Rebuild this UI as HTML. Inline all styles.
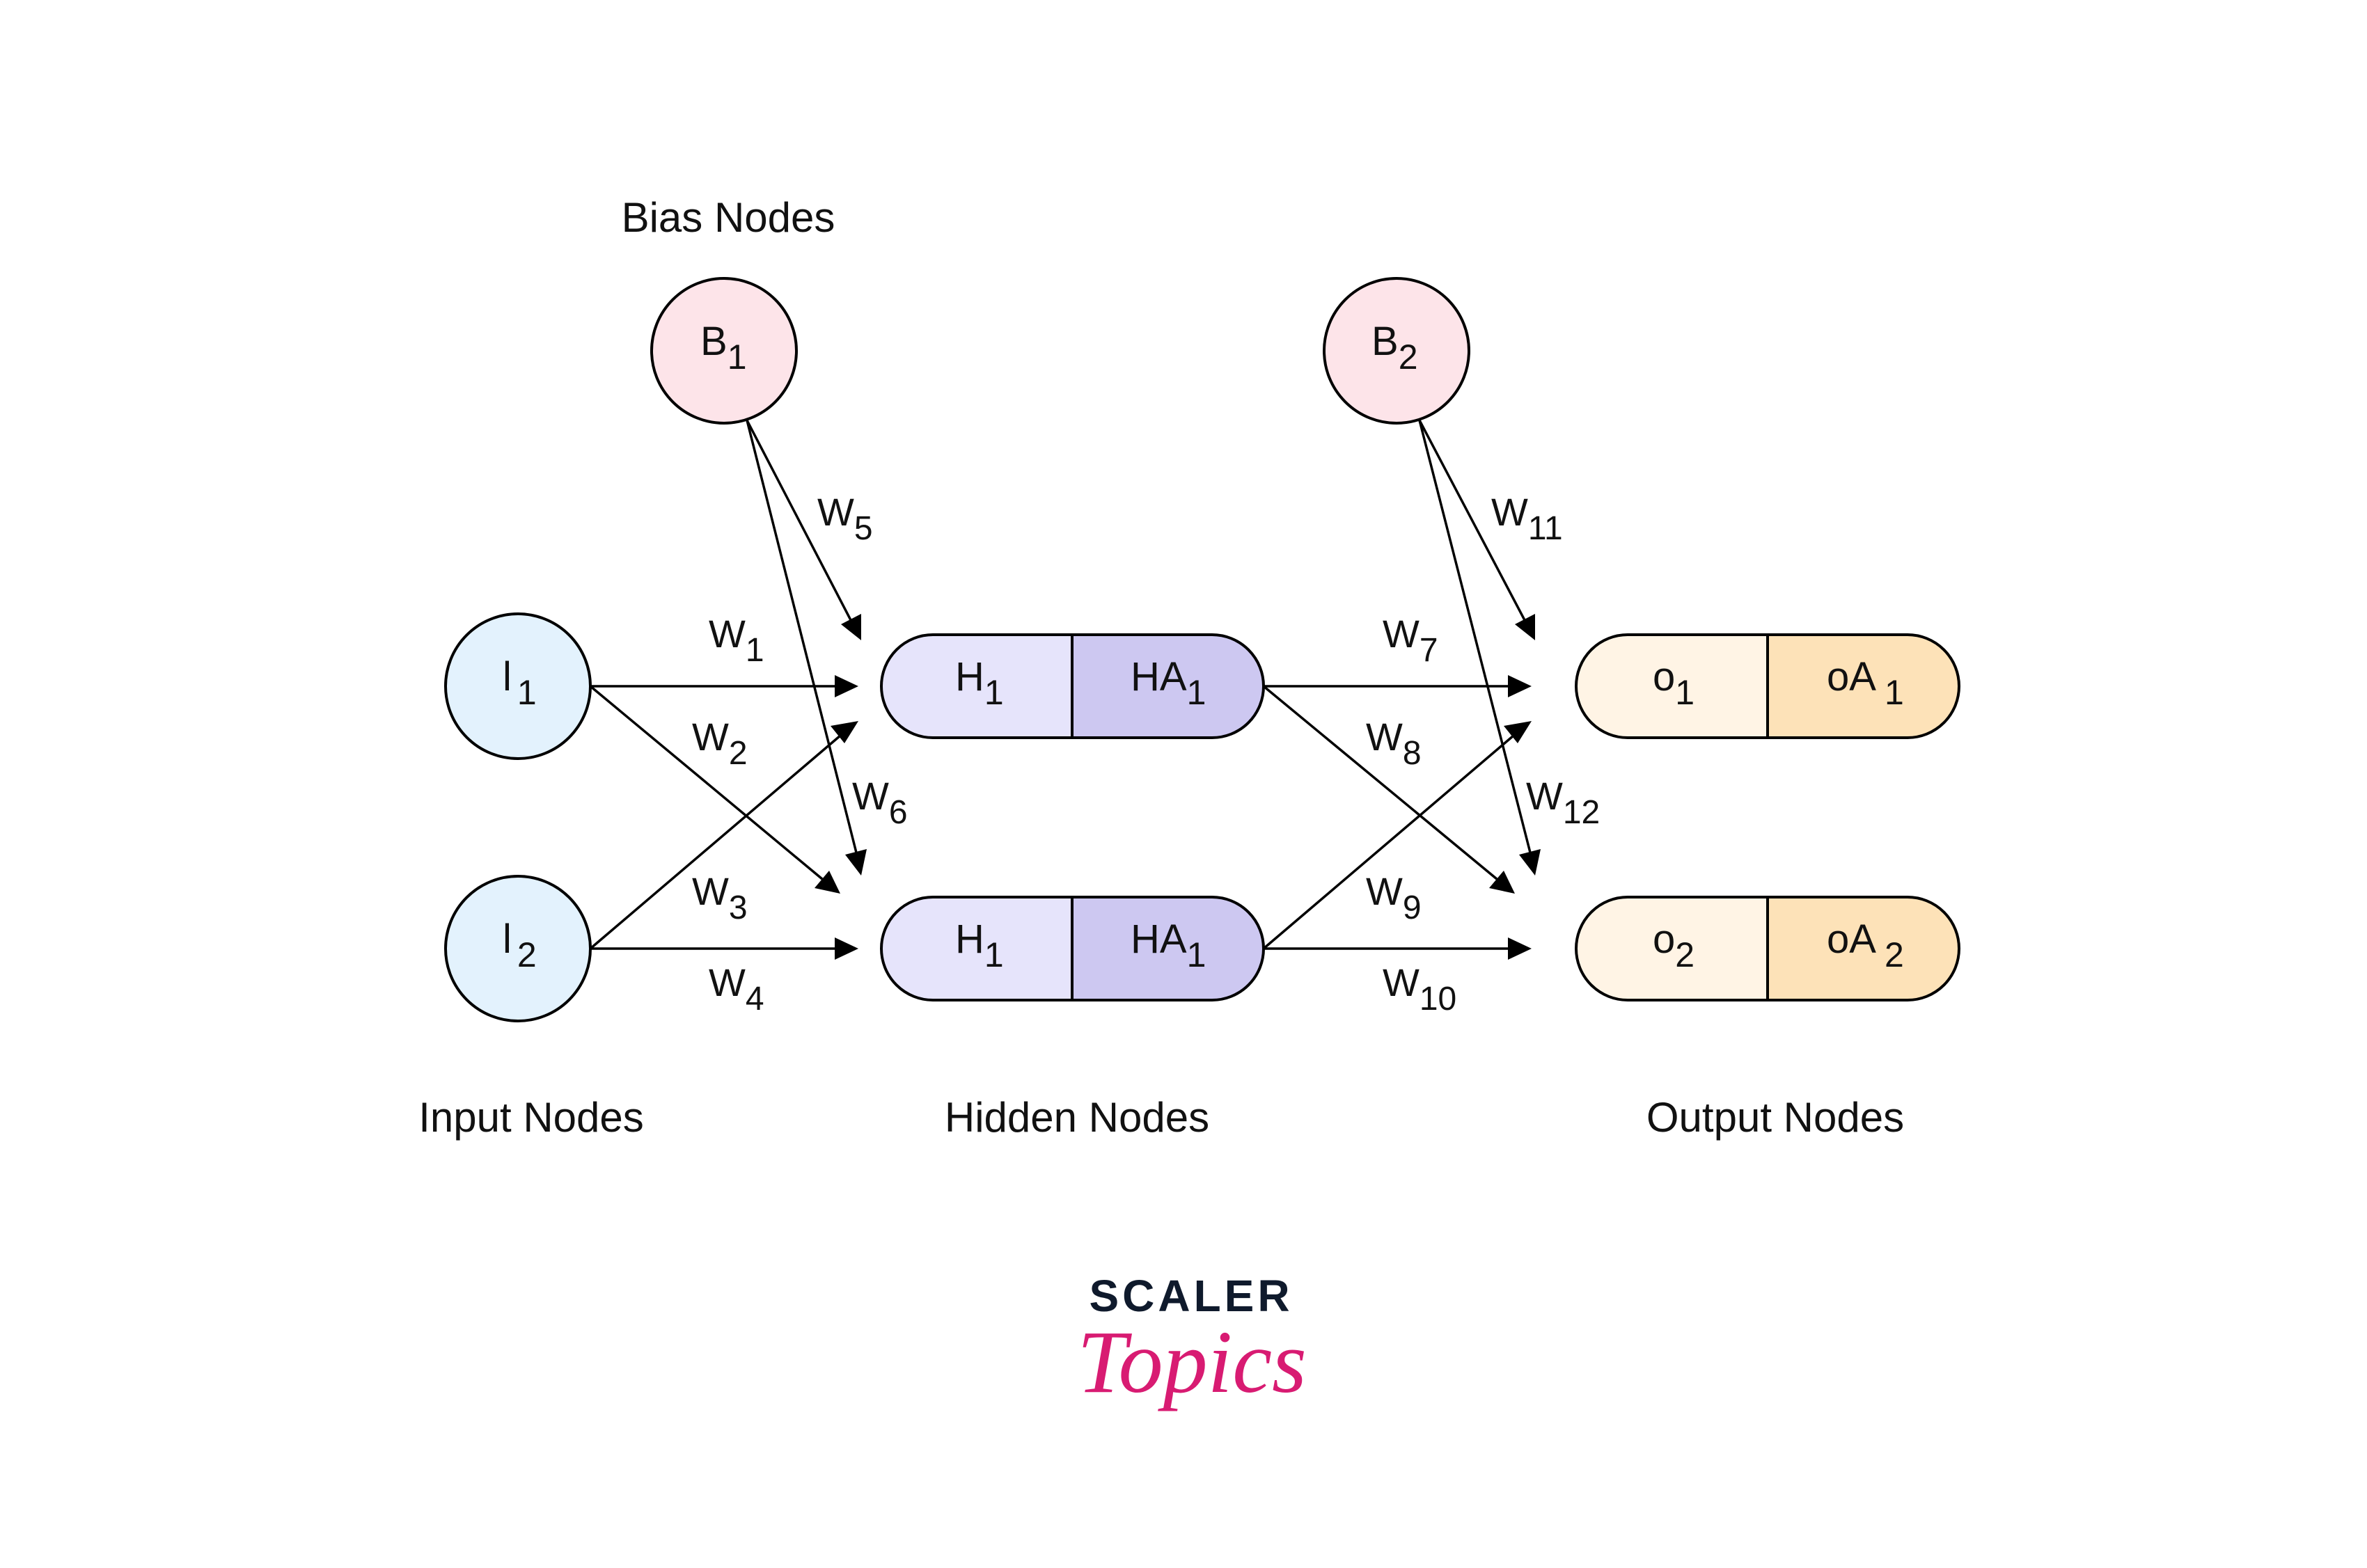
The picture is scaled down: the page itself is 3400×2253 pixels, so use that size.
<!DOCTYPE html>
<html><head><meta charset="utf-8"><style>html,body{margin:0;padding:0;background:#fff}svg{display:block}</style></head>
<body>
<svg width="3400" height="2253" viewBox="0 0 3400 2253" xmlns="http://www.w3.org/2000/svg" font-family="Liberation Sans, sans-serif">
<rect width="3400" height="2253" fill="#fff"/>
<g stroke="#000" stroke-width="4">
<circle cx="1040" cy="504" r="104" fill="#fde4e9"/>
<circle cx="2006" cy="504" r="104" fill="#fde4e9"/>
<circle cx="744" cy="986" r="104" fill="#e3f2fd"/>
<circle cx="744" cy="1363" r="104" fill="#e3f2fd"/>
<g transform="translate(-7,0)">
<path d="M1547 912 H1347 A74 74 0 0 0 1347 1060 H1547 Z" fill="#e6e4fb"/>
<path d="M1547 912 H1748 A74 74 0 0 1 1748 1060 H1547 Z" fill="#cdc8f1"/>
<path d="M1547 1289 H1347 A74 74 0 0 0 1347 1437 H1547 Z" fill="#e6e4fb"/>
<path d="M1547 1289 H1748 A74 74 0 0 1 1748 1437 H1547 Z" fill="#cdc8f1"/>
</g>
<g transform="translate(-11,0)">
<path d="M2550 912 H2349 A74 74 0 0 0 2349 1060 H2550 Z" fill="#fff4e5"/>
<path d="M2550 912 H2751 A74 74 0 0 1 2751 1060 H2550 Z" fill="#fde2b8"/>
<path d="M2550 1289 H2349 A74 74 0 0 0 2349 1437 H2550 Z" fill="#fff4e5"/>
<path d="M2550 1289 H2751 A74 74 0 0 1 2751 1437 H2550 Z" fill="#fde2b8"/>
</g>
</g>
<g stroke="#000" stroke-width="3.5" fill="none">
<line x1="848" y1="986" x2="1200" y2="986"/>
<line x1="848" y1="1363" x2="1200" y2="1363"/>
<line x1="848" y1="986" x2="1181" y2="1263"/>
<line x1="848" y1="1363" x2="1207" y2="1057"/>
<line x1="1073" y1="604" x2="1222" y2="891"/>
<line x1="1073" y1="604" x2="1230" y2="1225"/>
<line x1="1815" y1="986" x2="2167" y2="986"/>
<line x1="1815" y1="1363" x2="2167" y2="1363"/>
<line x1="1815" y1="986" x2="2150" y2="1263"/>
<line x1="1815" y1="1363" x2="2174" y2="1057"/>
<line x1="2039" y1="604" x2="2190" y2="891"/>
<line x1="2039" y1="604" x2="2198" y2="1225"/>
</g>
<g fill="#000">
<g transform="translate(-5,0)">
<polygon points="1238,986 1204,970 1204,1002"/>
<polygon points="1238,1363 1204,1347 1204,1379"/>
<polygon points="1212,1284 1175,1276 1196,1251"/>
<polygon points="1238,1036 1218,1068 1198,1043"/>
<polygon points="1242,920 1213,897 1242,882"/>
<polygon points="1242,1258 1219,1228 1250,1220"/>
</g>
<g transform="translate(-10,0)">
<polygon points="2210,986 2176,970 2176,1002"/>
<polygon points="2210,1363 2176,1347 2176,1379"/>
<polygon points="2186,1284 2149,1276 2170,1251"/>
<polygon points="2210,1036 2190,1068 2170,1043"/>
<polygon points="2215,920 2186,897 2215,882"/>
<polygon points="2215,1258 2192,1228 2223,1220"/>
</g>
</g>
<g font-size="60" fill="#111" text-anchor="middle">
<text x="1046" y="333">Bias Nodes</text>
<text x="763" y="1626">Input Nodes</text>
<text x="1547" y="1626">Hidden Nodes</text>
<text x="2550" y="1626">Output Nodes</text>
</g>
<g font-size="58" fill="#111">
<text x="1006" y="510">B<tspan font-size="50" dy="20">1</tspan></text>
<text x="1970" y="510">B<tspan font-size="50" dy="20">2</tspan></text>
<text x="722" y="992">l<tspan font-size="50" dy="20" dx="8">1</tspan></text>
<text x="722" y="1369">l<tspan font-size="50" dy="20" dx="8">2</tspan></text>
<text x="1372" y="992">H<tspan font-size="50" dy="20">1</tspan></text>
<text x="1624" y="992">HA<tspan font-size="50" dy="20">1</tspan></text>
<text x="1372" y="1369">H<tspan font-size="50" dy="20">1</tspan></text>
<text x="1624" y="1369">HA<tspan font-size="50" dy="20">1</tspan></text>
<text x="2374" y="992">o<tspan font-size="50" dy="20">1</tspan></text>
<text x="2624" y="992">oA<tspan font-size="50" dy="20" dx="12">1</tspan></text>
<text x="2374" y="1369">o<tspan font-size="50" dy="20">2</tspan></text>
<text x="2624" y="1369">oA<tspan font-size="50" dy="20" dx="12">2</tspan></text>
</g>
<g font-size="56" fill="#111">
<text x="1018" y="930">W<tspan font-size="48" dy="20">1</tspan></text>
<text x="994" y="1078">W<tspan font-size="48" dy="20">2</tspan></text>
<text x="994" y="1300">W<tspan font-size="48" dy="20">3</tspan></text>
<text x="1018" y="1431">W<tspan font-size="48" dy="20">4</tspan></text>
<text x="1174" y="755">W<tspan font-size="48" dy="20">5</tspan></text>
<text x="1224" y="1163">W<tspan font-size="48" dy="20">6</tspan></text>
<text x="1986" y="930">W<tspan font-size="48" dy="20">7</tspan></text>
<text x="1962" y="1078">W<tspan font-size="48" dy="20">8</tspan></text>
<text x="1962" y="1300">W<tspan font-size="48" dy="20">9</tspan></text>
<text x="1986" y="1431">W<tspan font-size="48" dy="20">10</tspan></text>
<text x="2142" y="755">W<tspan font-size="48" dy="20">11</tspan></text>
<text x="2192" y="1163">W<tspan font-size="48" dy="20">12</tspan></text>
</g>
<text x="1711" y="1884" font-size="64" font-weight="bold" fill="#0f1a2c" text-anchor="middle" letter-spacing="5">SCALER</text>
<text x="1712" y="2000" font-size="128" font-style="italic" font-family="Liberation Serif, serif" fill="#d81b72" text-anchor="middle">Topics</text>
</svg>
</body></html>
